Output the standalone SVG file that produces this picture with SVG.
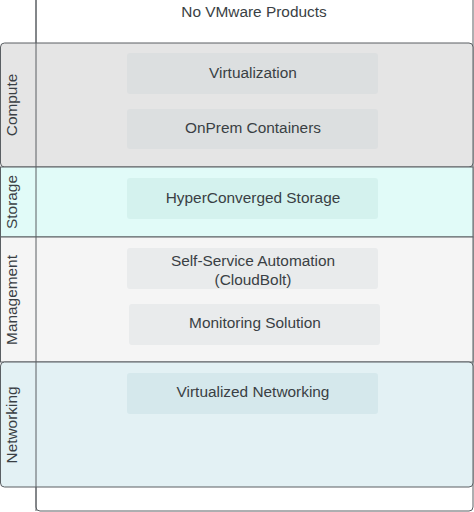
<svg xmlns="http://www.w3.org/2000/svg" width="474" height="512" viewBox="0 0 474 512">
<style>
text{font-family:"Liberation Sans",Arial,sans-serif;font-size:15.4px;fill:#3a3f44;text-anchor:middle}
.lane{stroke:#5a5f63;stroke-width:1}
.node{stroke:none}
</style>
<rect width="474" height="512" fill="#ffffff"/>
<g id="pool">
<rect x="36" y="-6" width="437" height="517" rx="4" fill="#ffffff" stroke="#5a5f63" stroke-width="1"/>
<text x="254" y="17">No VMware Products</text>
</g>
<g id="lane-compute">
<rect class="lane" x="0.5" y="43" width="472.5" height="124" rx="4" fill="#e5e5e5"/>
<text transform="translate(17,105) rotate(-90)">Compute</text>
</g>
<g id="lane-storage">
<rect class="lane" x="0.5" y="167" width="472.5" height="70" fill="#e1fbf8"/>
<text transform="translate(17,202) rotate(-90)">Storage</text>
</g>
<g id="lane-management">
<rect class="lane" x="0.5" y="237" width="472.5" height="125" fill="#f5f5f5"/>
<text transform="translate(17,300) rotate(-90)">Management</text>
</g>
<g id="lane-networking">
<rect class="lane" x="0.5" y="362" width="472.5" height="125" rx="4" fill="#e3f1f4"/>
<text transform="translate(17,425) rotate(-90)">Networking</text>
</g>
<line x1="36" y1="0" x2="36" y2="511" stroke="#5a5f63" stroke-width="1"/>
<g id="virtualization">
<rect class="node" x="127" y="53" width="251" height="41" rx="3" fill="#dcdfe0"/>
<text x="253" y="78">Virtualization</text>
</g>
<g id="onprem-containers">
<rect class="node" x="127" y="109" width="251" height="40" rx="3" fill="#dcdfe0"/>
<text x="253" y="133">OnPrem Containers</text>
</g>
<g id="hyperconverged-storage">
<rect class="node" x="127" y="178" width="251" height="41" rx="3" fill="#d4f2ee"/>
<text x="253" y="203">HyperConverged Storage</text>
</g>
<g id="self-service-automation">
<rect class="node" x="127" y="248" width="251" height="41" rx="3" fill="#e9ebec"/>
<text x="253" y="266">Self-Service Automation</text>
<text x="253" y="285">(CloudBolt)</text>
</g>
<g id="monitoring-solution">
<rect class="node" x="129" y="304" width="251" height="41" rx="3" fill="#e9ebec"/>
<text x="255" y="328">Monitoring Solution</text>
</g>
<g id="virtualized-networking">
<rect class="node" x="127" y="373" width="251" height="41" rx="3" fill="#d5e8ec"/>
<text x="253" y="397">Virtualized Networking</text>
</g>
<g id="connectors"></g>
</svg>
